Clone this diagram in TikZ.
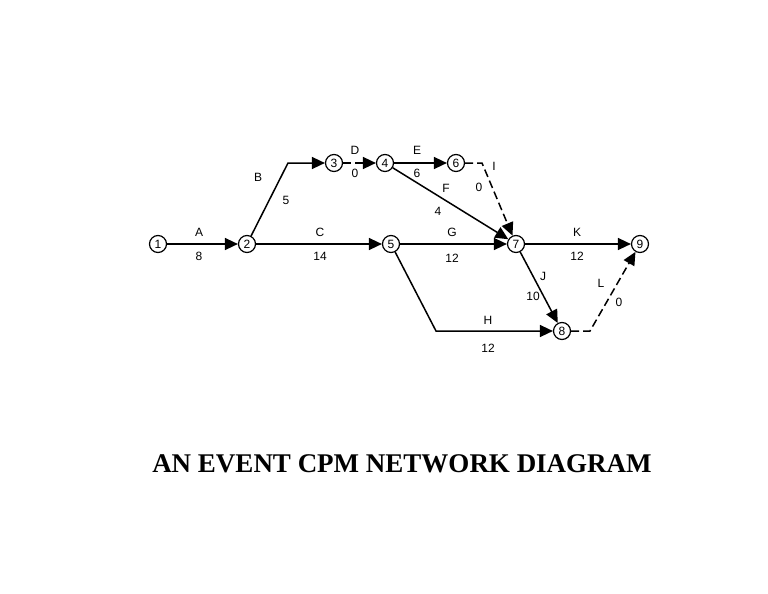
\documentclass[tikz,border=0pt]{standalone}
\usepackage{fontspec}
\setmainfont{Liberation Sans}
\newfontfamily\titlefont{Liberation Serif}
\usetikzlibrary{arrows.meta}
\begin{document}
\begin{tikzpicture}[x=1pt,y=-1pt,
  ev/.style={circle,draw,line width=1.2pt,minimum size=17pt,inner sep=0pt,font=\fontsize{12}{12}\selectfont},
  act/.style={line width=1.5pt,-{Triangle[length=13pt,width=12pt]}},
  dum/.style={act,dash pattern=on 8pt off 4pt},
  lab/.style={font=\fontsize{12}{12}\selectfont,inner sep=0pt}]
\useasboundingbox (0,0) rectangle (768,594);
\node[ev] (n1) at (158,244) {1};
\node[ev] (n2) at (247,244) {2};
\node[ev] (n3) at (334,163) {3};
\node[ev] (n4) at (385,163) {4};
\node[ev] (n6) at (456,163) {6};
\node[ev] (n5) at (391,244) {5};
\node[ev] (n7) at (516,244) {7};
\node[ev] (n9) at (640,244) {9};
\node[ev] (n8) at (562,331) {8};
\coordinate (b1) at (288,163);
\coordinate (h1) at (436,331);
\coordinate (i1) at (482,163);
\coordinate (l1) at (590,331);
\draw[act] (n1) -- (n2);
\draw[act] (n2) -- (b1) -- (n3);
\draw[dum] (n3) -- (n4);
\draw[act] (n4) -- (n6);
\draw[act] (n4) -- (n7);
\draw[dum] (n6) -- (i1) -- (n7);
\draw[act] (n2) -- (n5);
\draw[act] (n5) -- (n7);
\draw[act] (n5) -- (h1) -- (n8);
\draw[act] (n7) -- (n9);
\draw[act] (n7) -- (n8);
\draw[dum] (n8) -- (l1) -- (n9);
\node[lab] (la) at (199,232) {A};
\node[lab] (la2) at (199,256) {8};
\node[lab] (lb) at (258,177) {B};
\node[lab] (lb2) at (286,200) {5};
\node[lab] (lc) at (320,232) {C};
\node[lab] (lc2) at (320,256) {14};
\node[lab] (ld) at (355,150) {D};
\node[lab] (ld2) at (355,173) {0};
\node[lab] (le) at (417,150) {E};
\node[lab] (le2) at (417,173) {6};
\node[lab] (lf) at (446,188) {F};
\node[lab] (lf2) at (438,211) {4};
\node[lab] (li) at (494,166) {I};
\node[lab] (li2) at (479,187) {0};
\node[lab] (lg) at (452,232) {G};
\node[lab] (lg2) at (452,258) {12};
\node[lab] (lk) at (577,232) {K};
\node[lab] (lk2) at (577,256) {12};
\node[lab] (lj) at (543,276) {J};
\node[lab] (lj2) at (533,296) {10};
\node[lab] (ll) at (601,283) {L};
\node[lab] (ll2) at (619,302) {0};
\node[lab] (lh) at (488,320) {H};
\node[lab] (lh2) at (488,348) {12};
\node[font=\titlefont\bfseries\fontsize{27}{27}\selectfont,inner sep=0pt] (title) at (402,464) {AN EVENT CPM NETWORK DIAGRAM};
\end{tikzpicture}
\end{document}
